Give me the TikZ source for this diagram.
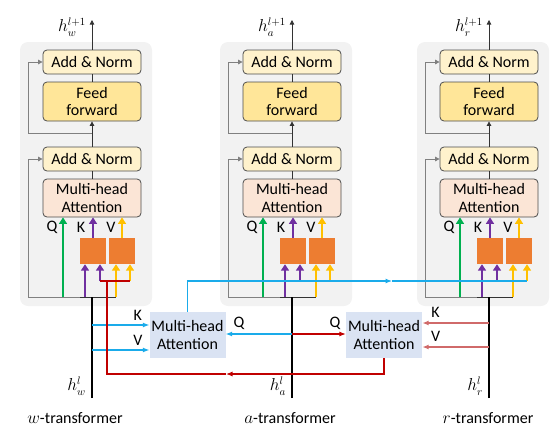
\documentclass[tikz,border=0pt]{standalone}
\usepackage{fontspec}
\setmainfont{Carlito}
\usetikzlibrary{arrows.meta}

\definecolor{panelgray}{HTML}{F2F2F2}
\definecolor{anfill}{HTML}{FFF2CC}
\definecolor{fffill}{HTML}{FFE699}
\definecolor{mhafill}{HTML}{FBE5D6}
\definecolor{crossfill}{HTML}{DAE3F3}
\definecolor{projorange}{HTML}{ED7D31}
\definecolor{qgreen}{HTML}{00B050}
\definecolor{kpurple}{HTML}{7030A0}
\definecolor{vyellow}{HTML}{FFC000}
\definecolor{crossblue}{HTML}{1AABEA}
\definecolor{crossred}{HTML}{C00000}
\definecolor{softred}{HTML}{D06A6A}

\begin{document}
\begin{tikzpicture}[x=1pt, y=-1pt,
    every node/.style={font=\fontsize{16}{17.5}\selectfont},
    block/.style={draw=black!70, line width=0.8pt, rounded corners=4pt, minimum width=98pt, inner sep=0pt, align=center},
    addnorm/.style={block, fill=anfill, minimum height=24pt},
    feedbox/.style={block, fill=fffill, minimum height=39pt},
    attbox/.style={block, fill=mhafill, minimum height=38pt},
    crossbox/.style={fill=crossfill, minimum width=76pt, minimum height=46pt, inner sep=0pt, align=center},
    projbox/.style={fill=projorange, minimum width=26pt, minimum height=26pt, inner sep=0pt},
    link/.style={draw=black!80, line width=0.8pt},
    reslink/.style={draw=black!50, line width=0.9pt},
    thinarrow/.style={link, -{Triangle[width=4.5pt,length=4.5pt]}},
    resarrow/.style={reslink, -{Triangle[width=4.5pt,length=4.5pt]}},
    fatarrow/.style={line width=2.6pt, -{Triangle[width=8pt,length=6.5pt]}},
    mainline/.style={draw=black, line width=2.2pt},
    blueline/.style={draw=crossblue, line width=1.1pt},
    redline/.style={draw=crossred, line width=1.1pt},
    softline/.style={draw=softred, line width=1.6pt},
    tip/.style={-{Latex[length=6.5pt,width=5pt]}}]

  \useasboundingbox (0,0) rectangle (559,439);

  % three transformer columns
  \foreach \c/\n in {92/w, 292/a, 489/r}{
    \fill[panelgray, rounded corners=8pt] (\c-72,42) rectangle (\c+60,306);
    \node[addnorm] (an2-\n) at (\c,62) {Add \& Norm};
    \node[feedbox] (ff-\n) at (\c,101.5) {Feed\\forward};
    \node[addnorm] (an1-\n) at (\c,159) {Add \& Norm};
    \node[attbox] (mha-\n) at (\c,198) {Multi-head\\Attention};
    \node[projbox] (pk-\n) at (\c+1,251) {};
    \node[projbox] (pv-\n) at (\c+30,251) {};
    \node (ql-\n) at (\c-40,227) {Q};
    \node (kl-\n) at (\c-11,227) {K};
    \node (vl-\n) at (\c+19,227) {V};
    \node[anchor=east, inner sep=0pt] (hout-\n) at (\c-6,27) {$h_\n^{l+1}$};
    \node[anchor=east, inner sep=0pt] (hin-\n) at (\c-6,386) {$h_\n^{l}$};
    \coordinate (out-\n) at (\c,20);
    \coordinate (in-\n) at (\c,398);
    \coordinate (base-\n) at (\c,297);
    \coordinate (res-\n) at (\c-64,297);
    \coordinate (q-\n) at (\c-29,297);
    \coordinate (k1-\n) at (\c-7,297);
    \coordinate (k2-\n) at (\c+8,281);
    \coordinate (v1-\n) at (\c+24,297);
    \coordinate (v2-\n) at (\c+38,281);

    \draw[thinarrow] (an2-\n.north) -- (out-\n);
    \draw[link] (ff-\n.north) -- (an2-\n.south);
    \draw[link] (mha-\n.north) -- (an1-\n.south);
    \draw[thinarrow] (an1-\n.north) -- (ff-\n.south);
    \draw[resarrow] (an1-\n.north) ++(0,-13) -- ++(-64,0) |- (an2-\n.west);
    \draw[resarrow] (res-\n) |- (an1-\n.west);
    \draw[reslink] (res-\n) -- (v1-\n);
    \draw[link] (k1-\n) ++(-5,0) -- (v1-\n);
    \draw[mainline] (in-\n) -- (base-\n);
    \draw[fatarrow, qgreen] (q-\n) -- (q-\n |- mha-\n.south);
    \draw[fatarrow, kpurple] (pk-\n.north) -- (pk-\n.north |- mha-\n.south);
    \draw[fatarrow, vyellow] (pv-\n.north) -- (pv-\n.north |- mha-\n.south);
    \draw[fatarrow, kpurple] (k1-\n) -- (k1-\n |- pk-\n.south);
    \draw[fatarrow, kpurple] (k2-\n) -- (k2-\n |- pk-\n.south);
    \draw[fatarrow, vyellow] (v1-\n) -- (v1-\n |- pv-\n.south);
    \draw[fatarrow, vyellow] (v2-\n) -- (v2-\n |- pv-\n.south);
  }

  % cross attention blocks
  \node[crossbox] (bmha) at (187.5,335) {Multi-head\\Attention};
  \node[crossbox] (rmha) at (384,335) {Multi-head\\Attention};

  \coordinate (kw) at (92,325);
  \coordinate (vw) at (92,350);
  \coordinate (qa) at (292,334);
  \coordinate (kr) at (489,323);
  \coordinate (vr) at (489,347);
  \coordinate (midb) at (392,281);
  \coordinate (midr) at (226,374);
  \coordinate (rdown) at (107,374);

  \draw[blueline, tip] (kw) -- (kw -| bmha.west) node[pos=0.8, above=1pt] (kbl) {K};
  \draw[blueline, tip] (vw) -- (vw -| bmha.west) node[pos=0.8, above=1pt] (vbl) {V};
  \draw[blueline, tip] (qa) -- (qa -| bmha.east) node[pos=0.8, above=1pt] (qbl) {Q};
  \draw[redline, tip] (qa) -- (qa -| rmha.west) node[pos=0.8, above=1pt] (qrl) {Q};
  \draw[softline, tip] (kr) -- (kr -| rmha.east) node[pos=0.8, above=1pt] (krl) {K};
  \draw[softline, tip] (vr) -- (vr -| rmha.east) node[pos=0.8, above=1pt] (vrl) {V};

  \draw[blueline, tip] (bmha.north) |- (midb);
  \draw[blueline] (midb) -- (v2-r);
  \draw[redline, tip] (rmha.south) |- (midr);
  \draw[redline] (midr) -- (rdown) -- (rdown |- k2-w);
  \draw[redline] (k2-w) -- (v2-w);

  \node (tw) at (75,418) {$w$-transformer};
  \node (ta) at (290,418) {$a$-transformer};
  \node (tr) at (488,418) {$r$-transformer};
\end{tikzpicture}
\end{document}
